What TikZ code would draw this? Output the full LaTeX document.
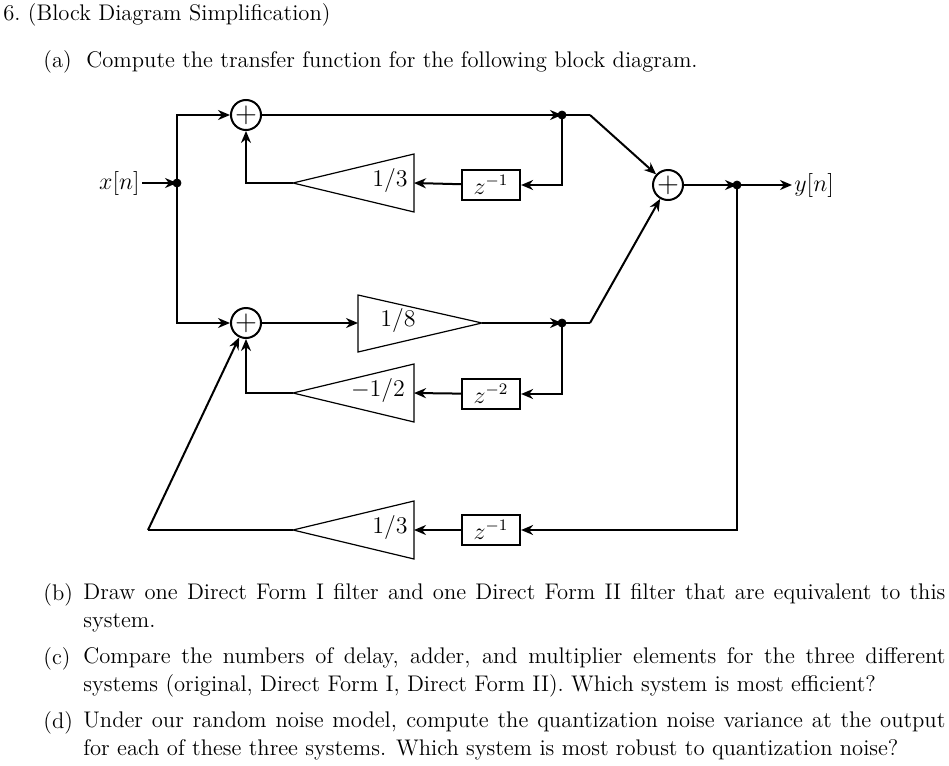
\documentclass[tikz,border=0pt]{standalone}
\usepackage{tikz}
\usetikzlibrary{arrows.meta}
\tikzset{
  sum/.style={circle,draw,line width=1pt,minimum size=15pt,inner sep=0pt,font=\Large},
  dly/.style={draw,line width=1.1pt,minimum width=29pt,minimum height=15pt,inner sep=0pt,font=\large},
  sig/.style={line width=1pt,-{Stealth[length=6pt,width=5pt]}},
  wire/.style={line width=1pt},
  gain/.style={line width=0.6pt},
  txt/.style={font=\fontsize{11.3}{14}\selectfont},
  item/.style={txt,text width=431pt,align=justify,anchor=north west,inner sep=0pt}
}
\begin{document}
\begin{tikzpicture}[x=0.5pt,y=-0.5pt]
\useasboundingbox (0,0) rectangle (949,766);
\node[anchor=west,txt,inner sep=0pt] (ttl) at (3,15) {6.\ (Block Diagram Simplification)};
\node[anchor=west,txt,inner sep=0pt] (qa) at (43,62) {(a)\ \ Compute the transfer function for the following block diagram.};

% adders
\node[sum] (s1) at (246,115) {$+$};
\node[sum] (s2) at (246,323) {$+$};
\node[sum] (s3) at (668,185) {$+$};

% delays
\node[dly] (d1) at (491,185) {$z^{-1}$};
\node[dly] (d2) at (491,394) {$z^{-2}$};
\node[dly] (d3) at (491,530) {$z^{-1}$};

% gains
\draw[gain] (293,183) coordinate (g1) -- (414,154) -- (414,212) -- cycle;
\node[font=\large] (l1) at (390,180) {$1/3$};
\draw[gain] (358,295) -- (482,323) coordinate (g2) -- (358,352) -- cycle;
\coordinate (g2i) at (358,323);
\node[font=\large] (l2) at (398,320) {$1/8$};
\draw[gain] (293,393) coordinate (g3) -- (414,364) -- (414,422) -- cycle;
\node[font=\large] (l3) at (378,390) {$-1/2$};
\draw[gain] (293,530) coordinate (g4) -- (414,501) -- (414,559) -- cycle;
\node[font=\large] (l4) at (390,527) {$1/3$};

% junctions
\coordinate (g1o) at (414,183);
\coordinate (g3o) at (414,393);
\coordinate (g4o) at (414,530);
\filldraw (177,183) coordinate (jx) circle (4);
\filldraw (562,115) coordinate (j1) circle (4);
\filldraw (562,323) coordinate (j2) circle (4);
\filldraw (737,185) coordinate (jy) circle (4);

\node[anchor=east,font=\large,inner sep=1pt] (x) at (142,183) {$x[n]$};
\node[anchor=west,font=\large,inner sep=1pt] (y) at (792,185) {$y[n]$};

\draw[sig] (x) -- (jx);
\draw[sig] (jx) |- (s1);
\draw[sig] (jx) |- (s2);
\draw[sig] (s1) -- (j1);
\draw[wire] (j1) -- (590,115) coordinate (k1);
\draw[sig] (k1) -- (s3);
\draw[sig] (j1) |- (d1);
\draw[sig] (d1) -- (g1o);
\draw[sig] (g1) -| (s1);

\draw[sig] (s2) -- (g2i);
\draw[sig] (g2) -- (j2);
\draw[wire] (j2) -- (590,323) coordinate (k2);
\draw[sig] (k2) -- (s3);
\draw[sig] (j2) |- (d2);
\draw[sig] (d2) -- (g3o);
\draw[sig] (g3) -| (s2);

\draw[sig] (s3) -- (jy);
\draw[sig] (jy) -- (y);
\draw[sig] (jy) |- (d3);
\draw[sig] (d3) -- (g4o);
\draw[wire] (g4) -- (148,530) coordinate (k3);
\draw[sig] (k3) -- (s2);

\node[anchor=north west,txt,inner sep=0pt] (lb) at (43,583) {(b)};
\node[item] (qb) at (83,583) {Draw one Direct Form I filter and one Direct Form II filter that are equivalent to this system.};
\node[anchor=north west,txt,inner sep=0pt] (lc) at (43,647) {(c)};
\node[item] (qc) at (83,647) {Compare the numbers of delay, adder, and multiplier elements for the three different systems (original, Direct Form I, Direct Form II). Which system is most efficient?};
\node[anchor=north west,txt,inner sep=0pt] (ld) at (43,711) {(d)};
\node[item] (qd) at (83,711) {Under our random noise model, compute the quantization noise variance at the output for each of these three systems. Which system is most robust to quantization noise?};
\end{tikzpicture}
\end{document}
